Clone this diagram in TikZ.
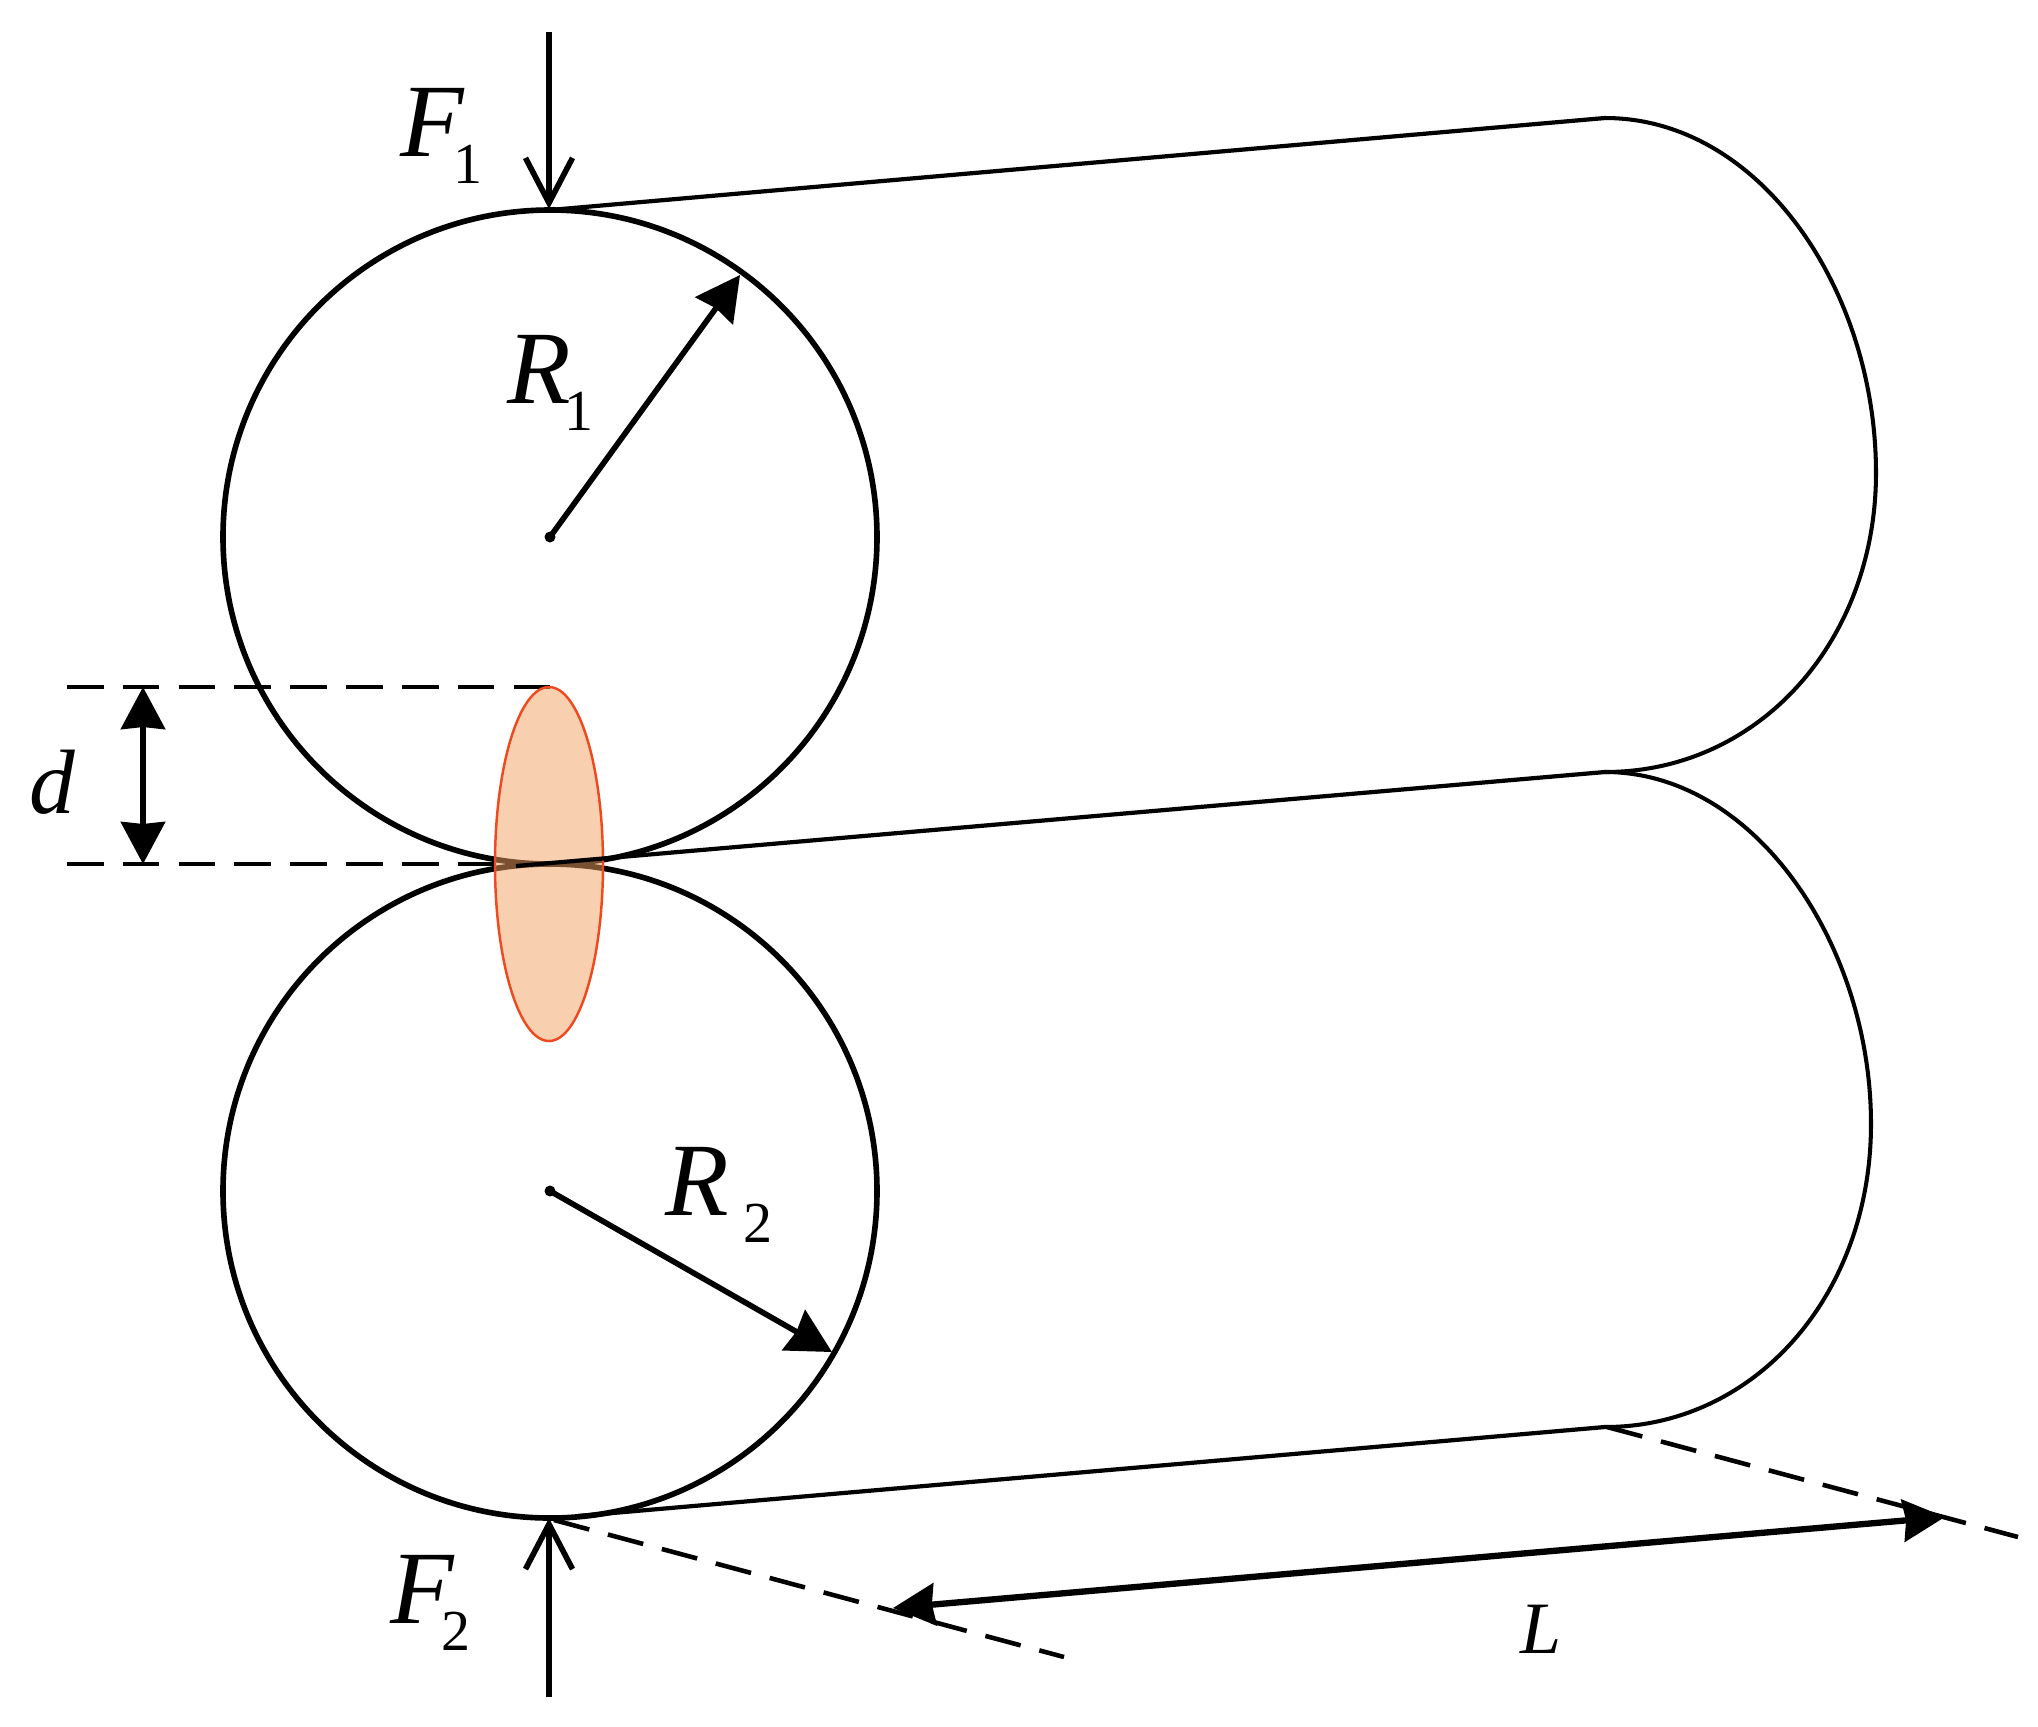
\documentclass[tikz,border=0pt]{standalone}
\usepackage{fontspec}
\setmainfont{Liberation Serif}
\usetikzlibrary{arrows.meta}
\definecolor{contactfill}{HTML}{F4A260}
\definecolor{contactline}{HTML}{F0491F}
\newcommand{\lblsub}[2]{\kern#1\raisebox{-7.8pt}{\fontsize{16.5}{17}\selectfont\upshape #2}}
\tikzset{
    bigtext/.style={inner sep=0pt, anchor=base west, font=\fontsize{29.6}{30}\selectfont\itshape},
    dim/.style={line width=1.3pt, dash pattern=on 0.365cm off 0.193cm},
    force/.style={line width=1.6pt, -{Straight Barb[length=0.45cm,width=0.47cm,line width=1.6pt]}},
    radius arrow/.style={line width=1.6pt, -{Stealth[length=0.44cm,width=0.46cm,inset=0.03cm]}},
    double arrow/.style={line width=1.6pt, {Stealth[length=0.42cm,width=0.44cm,inset=0.02cm]}-{Stealth[length=0.42cm,width=0.44cm,inset=0.02cm]}}
}
\begin{document}
\begin{tikzpicture}[x=0.01cm,y=-0.01cm]
            \useasboundingbox (0,0) rectangle (2038,1726);

            \coordinate (c1) at (550,537);
            \coordinate (c2) at (550,1191);
            \coordinate (b1) at (1605,118);
            \coordinate (b2) at (1605,772);
            \coordinate (b3) at (1605,1427);

            \draw[line width=1.15pt] (b1) .. controls (1760,118) and (1876,290) .. (1876,473)
                .. controls (1876,640) and (1760,772) .. (b2);
            \draw[line width=1.15pt] (b2) .. controls (1755,772) and (1871,945) .. (1871,1124)
                .. controls (1871,1295) and (1755,1427) .. (b3);
            \draw[line width=1.2pt] (550,210) -- (b1);
            \draw[line width=1.2pt] (578,1516) -- (b3);

            \foreach \c in {c1,c2}
            {
                \draw[line width=1.6pt] (\c) circle (327);
                \fill (\c) circle (5.5);
            }

            \draw[dim] (67,687) -- (550,687);
            \draw[dim] (67,864) -- (497,864);
            \draw[dim] (554,1520) -- (1064,1657);
            \draw[dim] (1607,1427) -- (2018,1537);

            \fill[contactfill, fill opacity=0.5] (549,864) ellipse (54 and 177);
            \draw[contactline, line width=0.7pt] (549,864) ellipse (54 and 177);
            \draw[line width=1.2pt] (516,866) -- (b2);

            \draw[double arrow] (143,687) -- (143,864);
            \draw[force] (549,32) -- (549,209);
            \draw[force] (549,1697) -- (549,1518);
            \draw[radius arrow] (c1) -- (740,275);
            \draw[radius arrow] (c2) -- (832,1352);
            \draw[line width=1.8pt, {Stealth[length=0.42cm,width=0.42cm,inset=0.03cm]}-{Stealth[length=0.42cm,width=0.42cm,inset=0.03cm]}] (893,1608) -- (1945,1517);

            \node[bigtext] (f1) at (400,156) {F\lblsub{-3pt}{1}};
            \node[bigtext] (r1) at (507,403) {R\lblsub{-2pt}{1}};
            \node[bigtext] (f2) at (390,1623) {F\lblsub{-3.7pt}{2}};
            \node[bigtext] (r2) at (665,1215) {R\lblsub{4pt}{2}};
            \node[bigtext, font=\fontsize{26}{27}\selectfont\itshape] (dd) at (29,813) {d};
            \node[bigtext, font=\fontsize{21}{22}\selectfont\itshape] (ll) at (1520,1653) {L};
        \end{tikzpicture}
\end{document}
